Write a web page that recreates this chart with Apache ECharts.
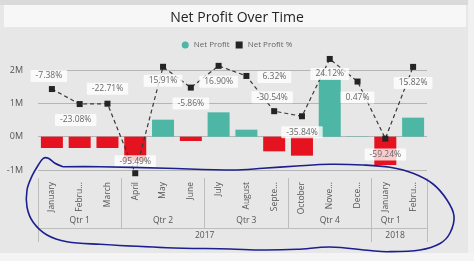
<!DOCTYPE html>
<html>
<head>
<meta charset="utf-8">
<title>Net Profit Over Time</title>
<script src="https://cdn.jsdelivr.net/npm/echarts@6/dist/echarts.min.js"></script>
<style>
  html, body { margin: 0; padding: 0; background: #e7e7e7; }
  #chart { width: 474px; height: 261px; }
</style>
</head>
<body>
<div id="chart"></div>
<script>
// data
var months = ['January', 'February', 'March', 'April', 'May', 'June', 'July',
  'August', 'September', 'October', 'November', 'December', 'January', 'February']
var monthLabels = ['January', 'Febru...', 'March', 'April', 'May', 'June', 'July',
  'August', 'Septe...', 'October', 'Nove...', 'Dece...', 'January', 'Febru...']
var netProfit = [-340000, -340000, -340000, -720000, 510000, -130000, 730000,
  210000, -440000, -570000, 1720000, 10000, -850000, 570000]
var netProfitPct = [-7.38, -23.08, -22.71, -95.49, 15.91, -5.86, 16.90,
  6.32, -30.54, -35.84, 24.12, 0.47, -59.24, 15.82]
var quarterLabels = ['Qtr 1', 'Qtr 2', 'Qtr 3', 'Qtr 4', 'Qtr 1']
var yearLabels = ['2017', '2018']

// hierarchy positions, in month units along the axis
var quarterEdges = [0, 3, 6, 9, 12, 14]
var quarterCenters = [1.5, 4.5, 7.5, 10.5, 12.7]
var yearEdges = [0, 12, 14]
var yearCenters = [6, 12.85]

// where each % label sits relative to its marker
var labelOffsets = [[-3, -13], [-4, 16], [0, -15], [0, -12], [0, 14], [0, 16], [0, 16],
  [28, 1], [-2, -14], [0, 16], [0, 15], [0, 16], [0, 16], [0, 16]]

var teal = '#4db6a4'
var red = '#e5121f'
var font = 'Open Sans, Noto Sans, sans-serif'

var chart = echarts.init(document.getElementById('chart'))

// hand drawn loop round the axis
var loop = [[63, 166.7], [100, 166.7], [166, 168.3], [233, 170], [263, 168.3], [297, 166],
  [330, 164.3], [363, 165], [390, 167.3], [413, 173.3], [433, 184], [447, 200],
  [454, 216], [450, 233], [440, 243.5], [420, 250], [387, 251.7], [370, 250.5],
  [330, 247], [297, 249.3], [263, 250], [230, 249], [167, 247.7], [100, 244.3],
  [67, 241.7], [47, 235], [33, 222], [27, 207], [27, 190], [31.7, 176.7],
  [38.3, 165], [43.3, 158.3], [48.3, 158.3], [55, 163.3], [63, 166.7]]

chart.setOption({
  backgroundColor: '#e7e7e7',
  textStyle: { fontFamily: font },
  animation: false,
  graphic: [
    { type: 'rect', shape: { x: 0, y: 0, width: 474, height: 5 }, style: { fill: '#dadada' }, z: -10 },
    { type: 'rect', shape: { x: 4, y: 5, width: 462, height: 22 }, style: { fill: '#f7f7f7' }, z: -10 },
    { type: 'rect', shape: { x: 468, y: 0, width: 6, height: 261 }, style: { fill: '#f1f1f1' }, z: -10 },
    { type: 'rect', shape: { x: 0, y: 253, width: 474, height: 8 }, style: { fill: '#f4f4f4' }, z: -10 },
    {
      type: 'polyline',
      shape: { points: loop, smooth: 0.35 },
      style: { stroke: '#1c1f8f', lineWidth: 1.6, fill: null },
      z: 100
    }
  ],
  title: {
    text: 'Net Profit Over Time',
    left: 'center',
    top: 6,
    textStyle: { fontFamily: font, fontSize: 14, fontWeight: 'normal', color: '#252423' }
  },
  legend: {
    top: 36,
    left: 'center',
    itemWidth: 7,
    itemHeight: 7,
    itemGap: 6,
    textStyle: { fontSize: 8, color: '#666', fontFamily: font },
    data: [
      { name: 'Net Profit', icon: 'circle', itemStyle: { color: teal } },
      { name: 'Net Profit %', icon: 'rect', itemStyle: { color: '#252423' } }
    ]
  },
  grid: { left: 38, right: 47, top: 70, bottom: 91 },
  xAxis: [
    {
      type: 'category',
      data: months,
      position: 'bottom',
      axisLine: { show: false },
      axisTick: { show: false },
      axisLabel: {
        rotate: 90,
        margin: 12,
        fontSize: 8.5,
        color: '#555',
        formatter: function (v, i) { return monthLabels[i] }
      }
    },
    {
      type: 'value',
      min: 0,
      max: 14,
      position: 'bottom',
      offset: 58,
      splitLine: { show: false },
      axisLine: { show: true, onZero: false, lineStyle: { color: '#bdbdbd', width: 1 } },
      axisTick: {
        show: true, inside: true, length: 50, customValues: quarterEdges,
        lineStyle: { color: '#bdbdbd', width: 1 }
      },
      axisLabel: {
        inside: true,
        margin: 3,
        fontSize: 8.5,
        color: '#555',
        customValues: quarterCenters,
        formatter: function (v) { return quarterLabels[quarterCenters.indexOf(v)] }
      }
    },
    {
      type: 'value',
      min: 0,
      max: 14,
      position: 'bottom',
      offset: 8,
      splitLine: { show: false },
      axisLine: { show: false, onZero: false },
      axisTick: {
        show: true, length: 64, customValues: yearEdges,
        lineStyle: { color: '#bdbdbd', width: 1 }
      },
      axisLabel: {
        margin: 53,
        fontSize: 8.5,
        color: '#555',
        customValues: yearCenters,
        formatter: function (v) { return yearLabels[yearCenters.indexOf(v)] }
      }
    }
  ],
  yAxis: [
    {
      type: 'value',
      min: -1000000,
      max: 2000000,
      interval: 1000000,
      axisLine: { show: false },
      axisTick: { show: false },
      axisLabel: {
        margin: 15,
        fontSize: 9,
        color: '#555',
        formatter: function (v) { return (v / 1000000) + 'M' }
      },
      splitLine: { lineStyle: { color: '#b5b5b5', width: 1 } }
    },
    {
      type: 'value',
      min: -92.09,
      max: 12.56,
      show: false,
      splitLine: { show: false }
    }
  ],
  series: [
    {
      name: 'Net Profit',
      type: 'bar',
      xAxisIndex: 0,
      yAxisIndex: 0,
      barWidth: 22,
      color: teal,
      itemStyle: {
        color: function (p) { return p.value < 0 ? red : teal }
      },
      data: netProfit
    },
    {
      name: 'Net Profit %',
      type: 'line',
      xAxisIndex: 0,
      yAxisIndex: 1,
      clip: false,
      color: '#252423',
      symbol: 'rect',
      symbolSize: 6,
      lineStyle: { color: '#3a3a3a', width: 1.2, type: [4, 3] },
      itemStyle: { color: '#252423' },
      z: 5,
      label: {
        show: true,
        position: 'inside',
        fontSize: 8.5,
        color: '#666',
        fontFamily: font,
        backgroundColor: 'rgba(255,255,255,0.78)',
        padding: [2, 5, 1, 5],
        borderRadius: 1,
        formatter: function (p) { return p.value.toFixed(2) + '%' }
      },
      data: netProfitPct.map(function (v, i) {
        return { value: v, label: { offset: labelOffsets[i] } }
      })
    }
  ]
})
</script>
</body>
</html>
